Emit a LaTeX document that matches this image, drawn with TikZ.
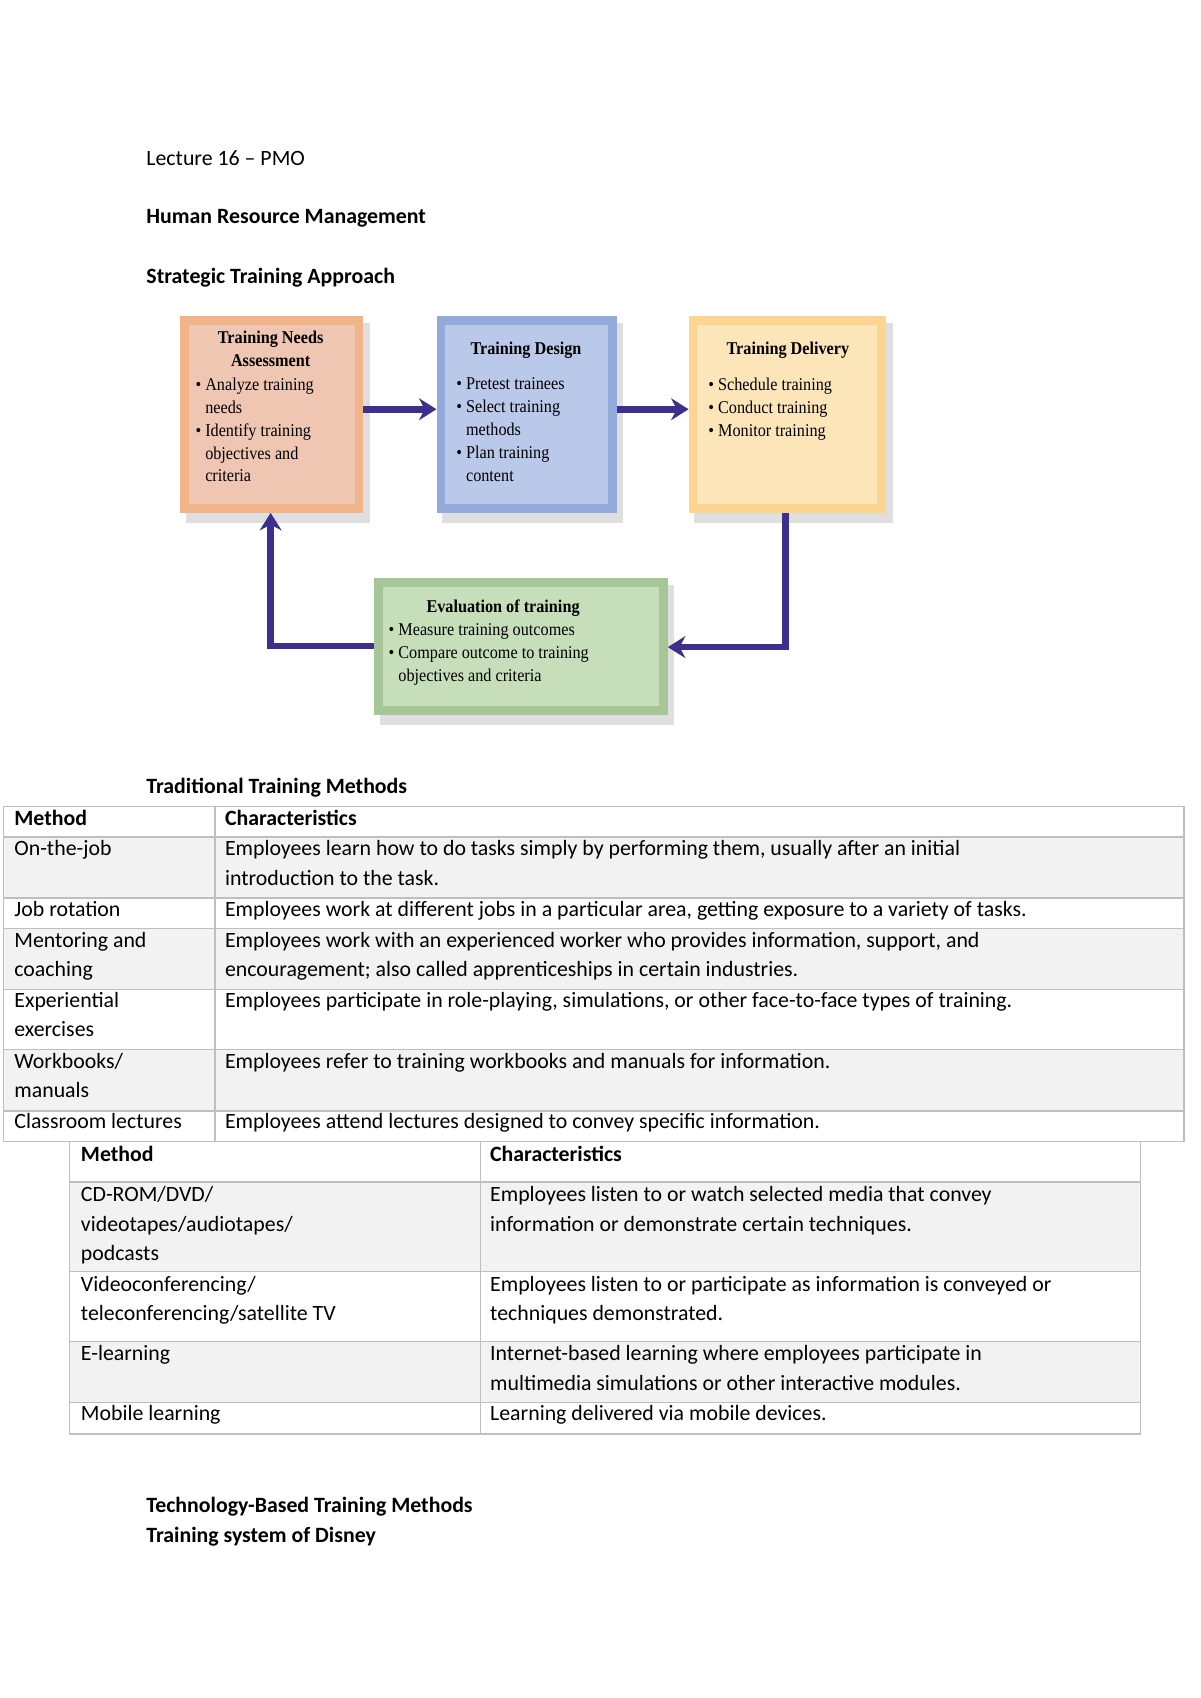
\documentclass[tikz,border=0pt]{standalone}
\usepackage{fontspec}
\setmainfont{Carlito}
\newfontfamily\dfont[FakeStretch=0.9]{Liberation Serif}
\usetikzlibrary{arrows.meta}
\definecolor{arr}{HTML}{3D2F8C}
\definecolor{grid}{HTML}{BFBFBF}
\definecolor{rowg}{HTML}{F2F2F2}
\definecolor{oo}{HTML}{F0B488}\definecolor{oi}{HTML}{EEC6B2}
\definecolor{bo}{HTML}{92ABDA}\definecolor{bi}{HTML}{BAC9E9}
\definecolor{yo}{HTML}{FCD690}\definecolor{yi}{HTML}{FDE5BA}
\definecolor{go}{HTML}{A6C698}\definecolor{gi}{HTML}{C6DEB9}
\tikzset{
 txt/.style={anchor=north west,inner sep=0pt,align=left,font=\fontsize{20}{27}\selectfont},
 btxt/.style={txt,font=\fontsize{20}{27}\selectfont\bfseries},
 dtxt/.style={anchor=north west,inner sep=0pt,align=left,font=\dfont\fontsize{16.5}{21}\selectfont},
 flow/.style={draw=arr,line width=6pt,-{Stealth[length=16pt,width=20pt]}},
 shadowbox/.style={fill=black!25,opacity=0.5},
}
\newcommand{\bx}[7]{% name x1 y1 x2 y2 outer inner
 \fill[shadowbox] (#2+5,#3+6) rectangle (#4+6,#5+9);
 \fill[#6] (#2,#3) rectangle (#4,#5);
 \fill[#7] (#2+8,#3+8) rectangle (#4-8,#5-8);
 \coordinate (#1) at ({(#2+#4)/2},{(#3+#5)/2});
}
\begin{document}
\begin{tikzpicture}[x=1pt,y=-1pt]
\useasboundingbox (0,0) rectangle (1100,1556);
\node[txt] (l1) at (134,138) {Lecture 16 -- PMO};
\node[btxt] (l2) at (134,192) {Human Resource Management};
\node[btxt] (l3) at (134,246) {Strategic Training Approach};
% boxes
\bx{o}{165}{290}{333}{470}{oo}{oi}
\bx{b}{400}{290}{565}{470}{bo}{bi}
\bx{y}{631}{290}{812}{470}{yo}{yi}
\bx{g}{343}{530}{612}{655}{go}{gi}
\coordinate (ol) at (165,375); \coordinate (or) at (333,375);
\coordinate (bl) at (400,375); \coordinate (br) at (565,375);
\coordinate (yl) at (631,375); \coordinate (yb) at (720,470);
\coordinate (gr) at (612,593); \coordinate (gl) at (343,592);
\coordinate (ob) at (248,470);
\draw[flow] (or) -- (bl);
\draw[flow] (br) -- (yl);
\draw[flow] (yb) |- (gr);
\draw[flow] (gl) -| (ob);
% box texts
\node[dtxt,align=center,anchor=north] (ot) at (248,303) {\bfseries Training Needs\\\bfseries Assessment};
\node[dtxt] (ob1) at (179,346) {\textbullet\ Analyze training\\\phantom{\textbullet\ }needs\\\textbullet\ Identify training\\\phantom{\textbullet\ }objectives and\\\phantom{\textbullet\ }criteria};
\node[dtxt,anchor=north] (bt) at (482,313) {\bfseries Training Design};
\node[dtxt] (bb) at (418,346) {\textbullet\ Pretest trainees\\\textbullet\ Select training\\\phantom{\textbullet\ }methods\\\textbullet\ Plan training\\\phantom{\textbullet\ }content};
\node[dtxt,anchor=north] (yt) at (722,313) {\bfseries Training Delivery};
\node[dtxt] (yb1) at (649,346) {\textbullet\ Schedule training\\\textbullet\ Conduct training\\\textbullet\ Monitor training};
\node[dtxt,anchor=north] (gt) at (461,549) {\bfseries Evaluation of training};
\node[dtxt] (gb) at (356,571) {\textbullet\ Measure training outcomes\\\textbullet\ Compare outcome to training\\\phantom{\textbullet\ }objectives and criteria};
% table 1
\node[btxt] (t1) at (134,713) {Traditional Training Methods};
\fill[rowg] (3,767) rectangle (1085,823);
\fill[rowg] (3,851) rectangle (1085,907);
\fill[rowg] (3,962) rectangle (1085,1018);
\draw[grid,line width=1.2pt] (3,739) rectangle (1085,1046);
\foreach \yy in {767,823,851,907,962,1018} \draw[grid,line width=1.2pt] (3,\yy) -- (1085,\yy);
\draw[grid,line width=1.2pt] (197,739) -- (197,1046);
\node[btxt] (h1) at (13,742) {Method};
\node[btxt] (h2) at (206,742) {Characteristics};
\node[txt] (a1) at (13,770) {On-the-job};
\node[txt] (a2) at (206,770) {Employees learn how to do tasks simply by performing them, usually after an initial\\introduction to the task.};
\node[txt] (b1) at (13,826) {Job rotation};
\node[txt] (b2) at (206,826) {Employees work at different jobs in a particular area, getting exposure to a variety of tasks.};
\node[txt] (c1) at (13,854) {Mentoring and\\coaching};
\node[txt] (c2) at (206,854) {Employees work with an experienced worker who provides information, support, and\\encouragement; also called apprenticeships in certain industries.};
\node[txt] (d1) at (13,909) {Experiential\\exercises};
\node[txt] (d2) at (206,909) {Employees participate in role-playing, simulations, or other face-to-face types of training.};
\node[txt] (e1) at (13,965) {Workbooks/\\manuals};
\node[txt] (e2) at (206,965) {Employees refer to training workbooks and manuals for information.};
\node[txt] (f1) at (13,1020) {Classroom lectures};
\node[txt] (f2) at (206,1020) {Employees attend lectures designed to convey specific information.};
% table 2
\fill[rowg] (64,1083) rectangle (1045,1165);
\fill[rowg] (64,1229) rectangle (1045,1285);
\draw[grid,line width=1.2pt] (64,1046) rectangle (1045,1314);
\foreach \yy in {1083,1165,1229,1285} \draw[grid,line width=1.2pt] (64,\yy) -- (1045,\yy);
\draw[grid,line width=1.2pt] (440,1046) -- (440,1314);
\node[btxt] (k1) at (74,1050) {Method};
\node[btxt] (k2) at (449,1050) {Characteristics};
\node[txt] (m1) at (74,1087) {CD-ROM/DVD/\\videotapes/audiotapes/\\podcasts};
\node[txt] (m2) at (449,1087) {Employees listen to or watch selected media that convey\\information or demonstrate certain techniques.};
\node[txt] (n1) at (74,1169) {Videoconferencing/\\teleconferencing/satellite TV};
\node[txt] (n2) at (449,1169) {Employees listen to or participate as information is conveyed or\\techniques demonstrated.};
\node[txt] (p1) at (74,1233) {E-learning};
\node[txt] (p2) at (449,1233) {Internet-based learning where employees participate in\\multimedia simulations or other interactive modules.};
\node[txt] (q1) at (74,1288) {Mobile learning};
\node[txt] (q2) at (449,1288) {Learning delivered via mobile devices.};
\node[btxt] (z1) at (134,1372) {Technology-Based Training Methods\\Training system of Disney};
\end{tikzpicture}
\end{document}
